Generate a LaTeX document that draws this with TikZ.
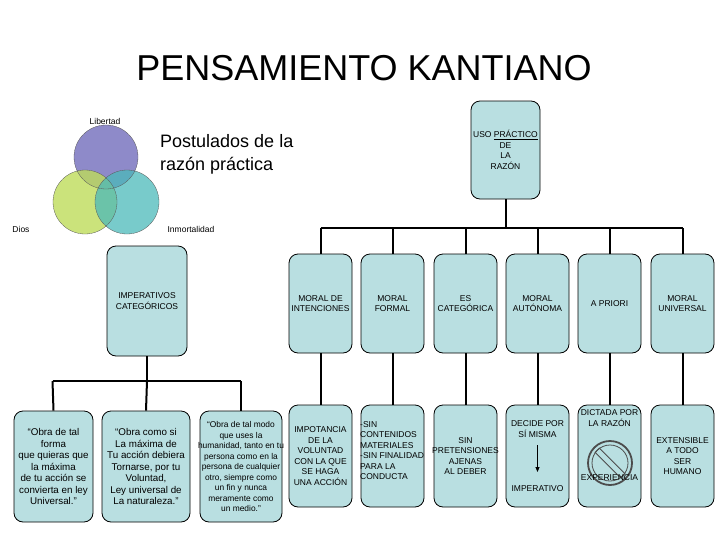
\documentclass[tikz,border=0pt]{standalone}
\usepackage{fontspec}
\setmainfont{Liberation Sans}
\usetikzlibrary{arrows.meta}
\definecolor{boxfill}{HTML}{B9DFE1}
\begin{document}
\begin{tikzpicture}[x=1pt,y=-1pt,
  bx/.style={draw=black,fill=boxfill,rounded corners=9pt,line width=0.8pt},
  tx/.style={font=\fontsize{8.5}{10.5}\selectfont,align=center,inner sep=0pt},
  ln/.style={line width=2pt}]
\useasboundingbox (0,0) rectangle (728,546);
\node[font=\fontsize{36}{40}\selectfont] (title) at (364,68) {PENSAMIENTO KANTIANO};
% Venn
\fill[fill={rgb,255:red,130;green,125;blue,195},opacity=0.9] (106,157) circle (32);
\fill[fill={rgb,255:red,190;green,220;blue,90},opacity=0.8] (85,202) circle (32);
\fill[fill={rgb,255:red,75;green,185;blue,185},opacity=0.75] (127,202) circle (32);
\draw[gray!70!black,line width=0.3pt] (106,157) circle (32) (85,202) circle (32) (127,202) circle (32);
\node[tx] (lib) at (105,121) {Libertad};
\node[tx] (dios) at (21,229) {Dios};
\node[tx] (inm) at (191,229) {Inmortalidad};
\node[font=\fontsize{18}{23}\selectfont,align=left,anchor=north west,inner sep=0pt] (post) at (160,134) {Postulados de la\\razón práctica};
% Right tree
\node[bx,minimum width=69pt,minimum height=98pt] (uso) at (505.5,150) {};
\node[tx] at (uso) {USO \underline{PRÁCTICO}\\DE\\LA\\RAZÓN};
\coordinate (hr) at (505.5,228);
\draw[ln] (uso.south) -- (hr);
\draw[ln] (320.5,228) -- (682.5,228);
\foreach \i/\x/\t/\b in {
 1/320.5/{MORAL DE\\INTENCIONES}/{IMPOTANCIA\\DE LA\\VOLUNTAD\\CON LA QUE\\SE HAGA\\UNA ACCIÓN},
 2/392.5/{MORAL\\FORMAL}/{},
 3/465.5/{ES\\CATEGÓRICA}/{SIN\\PRETENSIONES\\AJENAS\\AL DEBER},
 4/537.5/{MORAL\\AUTÓNOMA}/{},
 5/609.5/{A PRIORI}/{},
 6/682.5/{MORAL\\UNIVERSAL}/{EXTENSIBLE\\A TODO\\SER\\HUMANO}}{
  \node[bx,minimum width=63pt,minimum height=99pt] (t\i) at (\x,303.5) {};
  \node[tx] at (t\i) {\t};
  \node[bx,minimum width=63pt,minimum height=102pt] (b\i) at (\x,456) {};
  \node[tx] at (b\i) {\b};
  \draw[ln] (\x,228) -- (t\i.north);
  \draw[ln] (t\i.south) -- (b\i.north);
}
\node[tx,align=left,anchor=north west] at (360,421) {-SIN\\CONTENIDOS\\MATERIALES\\-SIN FINALIDAD\\PARA LA\\CONDUCTA};
\node[tx] (dec) at (537.5,429) {DECIDE POR\\SÍ MISMA};
\node[tx] (imp) at (537.5,489) {IMPERATIVO};
\draw[-{Triangle[length=5pt,width=4pt]},line width=0.8pt] (537.5,445) -- (537.5,472);
\draw[line width=1.8pt,gray!60!black] (610,463) circle (22);
\draw[line width=0.8pt,gray!60!black] (610,463) circle (18);
\begin{scope}[shift={(610,463)},rotate=45]
\draw[line width=0.8pt,gray!60!black] (-3,-18) rectangle (3,18);
\end{scope}
\node[tx] (dic) at (609.5,418) {DICTADA POR\\LA RAZÓN};
\node[tx] (exp) at (609.5,478) {EXPERIENCIA};
% Left tree
\node[bx,minimum width=80pt,minimum height=110pt] (impc) at (147,301) {};
\node[tx] at (impc) {IMPERATIVOS\\CATEGÓRICOS};
\draw[ln] (impc.south) -- (147,381);
\draw[ln] (52.5,381) -- (241,381);
\node[bx,minimum width=79pt,minimum height=111pt] (q1) at (53.5,466.5) {};
\node[tx,font=\fontsize{9.8}{11.5}\selectfont] at (q1) {“Obra de tal\\forma\\que quieras que\\la máxima\\de tu acción se\\convierta en ley\\Universal.”};
\node[bx,minimum width=88pt,minimum height=111pt] (q2) at (146,466.5) {};
\node[tx,font=\fontsize{9.8}{11.5}\selectfont] at (q2) {“Obra como si\\La máxima de\\Tu acción debiera\\Tornarse, por tu\\Voluntad,\\Ley universal de\\La naturaleza.”};
\node[bx,minimum width=82pt,minimum height=111pt] (q3) at (241,466.5) {};
\node[tx,font=\fontsize{8.4}{10.5}\selectfont] at (q3) {“Obra de tal modo\\que uses la\\humanidad, tanto en tu\\persona como en la\\persona de cualquier\\otro, siempre como\\un fin y nunca\\meramente como\\un medio.”};
\draw[ln] (52.5,381) -- (q1.north);
\draw[ln] (147,381) -- (q2.north);
\draw[ln] (241,381) -- (q3.north);
\end{tikzpicture}
\end{document}
